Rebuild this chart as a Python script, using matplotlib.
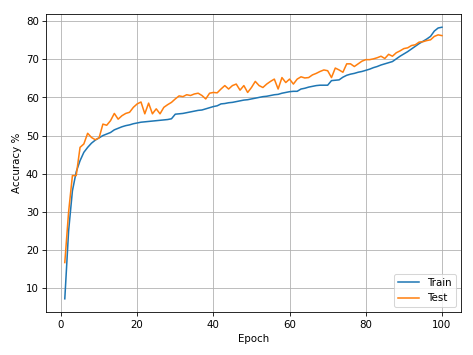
import matplotlib
matplotlib.use('Agg')
import matplotlib.pyplot as plt

# ── Data ─────────────────────────────────────────────────────────────────────
epochs = list(range(1, 101))

train_acc = [
    7.2, 25.0, 35.5, 40.5, 43.4, 45.6, 46.9, 48.0, 48.8, 49.4,
    50.0, 50.4, 50.8, 51.5, 51.9, 52.3, 52.6, 52.8, 53.1, 53.3,
    53.5, 53.6, 53.7, 53.8, 53.9, 54.0, 54.1, 54.2, 54.4, 55.6,
    55.7, 55.8, 56.0, 56.2, 56.4, 56.6, 56.7, 57.0, 57.3, 57.6,
    57.8, 58.3, 58.4, 58.6, 58.7, 58.9, 59.1, 59.3, 59.4, 59.6,
    59.8, 60.0, 60.2, 60.3, 60.5, 60.7, 60.8, 61.1, 61.3, 61.5,
    61.6, 61.6, 62.2, 62.4, 62.7, 62.9, 63.1, 63.2, 63.2, 63.2,
    64.4, 64.5, 64.6, 65.3, 65.8, 66.1, 66.3, 66.6, 66.8, 67.1,
    67.4, 67.8, 68.1, 68.5, 68.8, 69.1, 69.4, 70.1, 70.8, 71.4,
    72.0, 72.7, 73.4, 74.1, 74.7, 75.3, 76.0, 77.4, 78.2, 78.4,
]

test_acc = [
    16.7, 30.0, 39.5, 39.5, 46.9, 47.8, 50.6, 49.5, 48.9, 49.4,
    53.0, 52.7, 53.9, 55.8, 54.3, 55.2, 55.8, 56.1, 57.4, 58.3,
    58.8, 55.7, 58.5, 55.7, 57.0, 55.7, 57.4, 58.1, 58.7, 59.6,
    60.4, 60.2, 60.7, 60.5, 60.9, 61.1, 60.5, 59.6, 61.1, 61.3,
    61.2, 62.2, 63.1, 62.2, 63.1, 63.5, 61.9, 63.1, 61.3, 62.6,
    64.2, 63.1, 62.6, 63.5, 64.2, 64.8, 62.2, 65.2, 63.9, 64.8,
    63.5, 64.8, 65.4, 65.1, 65.2, 65.9, 66.3, 66.8, 67.2, 67.0,
    65.2, 67.7, 67.2, 66.6, 68.8, 68.8, 68.1, 68.8, 69.5, 69.9,
    69.9, 70.1, 70.4, 70.8, 70.2, 71.3, 70.8, 71.7, 72.2, 72.8,
    73.0, 73.6, 73.8, 74.5, 74.6, 74.9, 75.1, 76.0, 76.4, 76.2,
]

# ── Plot ─────────────────────────────────────────────────────────────────────
fig, ax = plt.subplots(figsize=(6.4, 4.8), dpi=74)
fig.subplots_adjust(left=0.097, right=0.973, top=0.961, bottom=0.120)

ax.plot(epochs, train_acc, label='Train')
ax.plot(epochs, test_acc, label='Test')

ax.set_xlabel('Epoch')
ax.set_ylabel('Accuracy %')
ax.grid(True)
ax.legend(loc='lower right')

fig.savefig('out.png', dpi=74)
